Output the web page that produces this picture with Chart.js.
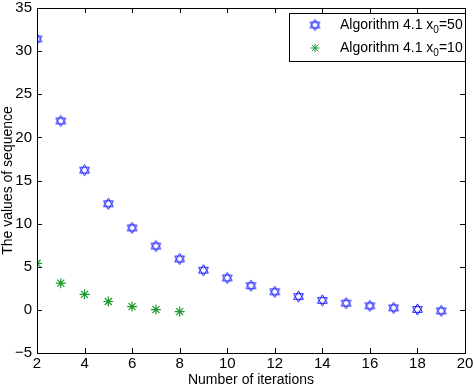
<!DOCTYPE html>
<html>
<head>
<meta charset="utf-8">
<script src="https://cdn.jsdelivr.net/npm/chart.js@4"></script>
<style>
  html, body { margin: 0; padding: 0; background: #fff; }
  #wrap { width: 474px; height: 385px; }
</style>
</head>
<body>
<div id="wrap"><canvas id="c" width="474" height="385"></canvas></div>
<script>
// iteration index and sequence values
const iters50 = [2, 3, 4, 5, 6, 7, 8, 9, 10, 11, 12, 13, 14, 15, 16, 17, 18, 19];
const values50 = [31.4, 21.9, 16.2, 12.3, 9.5, 7.4, 5.9, 4.6, 3.7, 2.8, 2.1, 1.55, 1.1, 0.78, 0.47, 0.23, 0.05, -0.12];
const iters10 = [2, 3, 4, 5, 6, 7, 8];
const values10 = [5.4, 3.1, 1.8, 0.97, 0.38, 0.03, -0.2];
const xTicks = [2, 4, 6, 8, 10, 12, 14, 16, 18, 20];
const yTicks = [-5, 0, 5, 10, 15, 20, 25, 30, 35];
const legendLabels = ['50', '10'];

const BLUE = '#0000ff';
const GREEN = '#1a9a2c';
const FONT = 'Liberation Sans, Arial, sans-serif';

// six pointed star marker (two triangles), like matlab 'h'
function hexagram(color) {
    const c = document.createElement('canvas');
    c.width = 15; c.height = 15;
    const g = c.getContext('2d');
    g.strokeStyle = color;
    g.lineWidth = 0.9;
    const cx = 7.5, cy = 7.5, r = 5.6;
    [ -Math.PI / 2, Math.PI / 2 ].forEach(a0 => {
        g.beginPath();
        for (let i = 0; i < 3; i++) {
            const a = a0 + i * 2 * Math.PI / 3;
            const px = cx + r * Math.cos(a), py = cy + r * Math.sin(a);
            if (i === 0) g.moveTo(px, py); else g.lineTo(px, py);
        }
        g.closePath();
        g.stroke();
    });
    return c;
}
const starImg = hexagram(BLUE);

const toPoints = (xs, ys) => xs.map((x, i) => ({ x: x, y: ys[i] }));

// box round the plot, ticks pointing in, and the legend with subscripts
const matlabAxes = {
    id: 'matlabAxes',
    afterDraw(chart) {
        const ctx = chart.ctx;
        const a = chart.chartArea;
        const xs = chart.scales.x, ys = chart.scales.y;
        ctx.save();
        ctx.strokeStyle = '#000';
        ctx.lineWidth = 1;
        ctx.strokeRect(Math.round(a.left) + 0.5, Math.round(a.top) + 0.5,
            Math.round(a.right - a.left), Math.round(a.bottom - a.top));
        const tl = 5;
        ctx.beginPath();
        xTicks.forEach(v => {
            const px = Math.round(xs.getPixelForValue(v)) + 0.5;
            ctx.moveTo(px, a.bottom); ctx.lineTo(px, a.bottom - tl);
            ctx.moveTo(px, a.top); ctx.lineTo(px, a.top + tl);
        });
        yTicks.forEach(v => {
            const py = Math.round(ys.getPixelForValue(v)) + 0.5;
            ctx.moveTo(a.left, py); ctx.lineTo(a.left + tl, py);
            ctx.moveTo(a.right, py); ctx.lineTo(a.right - tl, py);
        });
        ctx.stroke();

        // legend
        const lx = 289, ly = 13, lw = 176, lh = 48;
        ctx.fillStyle = '#fff';
        ctx.fillRect(lx, ly, lw, lh);
        ctx.strokeRect(lx + 0.5, ly + 0.5, lw, lh);
        const rows = [ly + 12, ly + 35];
        chart.data.datasets.forEach((ds, i) => {
            const y = rows[i];
            if (i === 0) {
                ctx.drawImage(starImg, 315 - 7.5, y - 7.5);
            } else {
                ctx.strokeStyle = GREEN;
                ctx.beginPath();
                const r = 4.5;
                ctx.moveTo(315 - r, y); ctx.lineTo(315 + r, y);
                ctx.moveTo(315, y - r); ctx.lineTo(315, y + r);
                const d = r * 0.707;
                ctx.moveTo(315 - d, y - d); ctx.lineTo(315 + d, y + d);
                ctx.moveTo(315 - d, y + d); ctx.lineTo(315 + d, y - d);
                ctx.stroke();
                ctx.strokeStyle = '#000';
            }
            ctx.fillStyle = '#000';
            ctx.textBaseline = 'middle';
            ctx.textAlign = 'left';
            ctx.font = '14px ' + FONT;
            let tx = 340;
            const main = 'Algorithm 4.1 x';
            ctx.fillText(main, tx, y);
            tx += ctx.measureText(main).width;
            ctx.font = '10px ' + FONT;
            ctx.fillText('0', tx, y + 5);
            tx += ctx.measureText('0').width;
            ctx.font = '14px ' + FONT;
            ctx.fillText('=' + legendLabels[i], tx, y);
        });
        ctx.restore();
    }
};

new Chart(document.getElementById('c'), {
    type: 'scatter',
    data: {
        datasets: [
            {
                label: 'Algorithm 4.1 x0=50',
                data: toPoints(iters50, values50),
                pointStyle: starImg,
                pointRadius: 7,
                borderColor: BLUE,
                backgroundColor: BLUE
            },
            {
                label: 'Algorithm 4.1 x0=10',
                data: toPoints(iters10, values10),
                pointStyle: 'star',
                pointRadius: 5,
                borderWidth: 1.2,
                borderColor: GREEN,
                backgroundColor: GREEN
            }
        ]
    },
    options: {
        responsive: false,
        animation: false,
        layout: { padding: { top: 5, right: 9, left: 0, bottom: 0 } },
        plugins: {
            legend: { display: false },
            tooltip: { enabled: false }
        },
        scales: {
            x: {
                type: 'linear',
                min: 2,
                max: 20,
                afterFit: s => { s.height = 32; s.paddingLeft = 0; s.paddingRight = 0; },
                afterBuildTicks: s => { s.ticks = xTicks.map(v => ({ value: v })); },
                grid: { display: false, drawTicks: false },
                border: { display: false },
                ticks: { color: '#000', padding: 2, font: { family: FONT, size: 15 } },
                title: {
                    display: true,
                    text: 'Number of iterations',
                    color: '#000',
                    padding: { top: 0, bottom: -4 },
                    font: { family: FONT, size: 14 }
                }
            },
            y: {
                min: -5,
                max: 35,
                afterFit: s => { s.width = 37; s.paddingTop = 0; s.paddingBottom = 0; },
                afterBuildTicks: s => { s.ticks = yTicks.map(v => ({ value: v })); },
                grid: { display: false, drawTicks: false },
                border: { display: false },
                ticks: {
                    color: '#000',
                    padding: 5,
                    font: { family: FONT, size: 15 },
                    callback: v => (v < 0 ? '\u2212' + Math.abs(v) : '' + v)
                },
                title: {
                    display: true,
                    text: 'The values of sequence',
                    color: '#000',
                    padding: { top: 0, bottom: 0 },
                    font: { family: FONT, size: 14 }
                }
            }
        }
    },
    plugins: [matlabAxes]
});
</script>
</body>
</html>
